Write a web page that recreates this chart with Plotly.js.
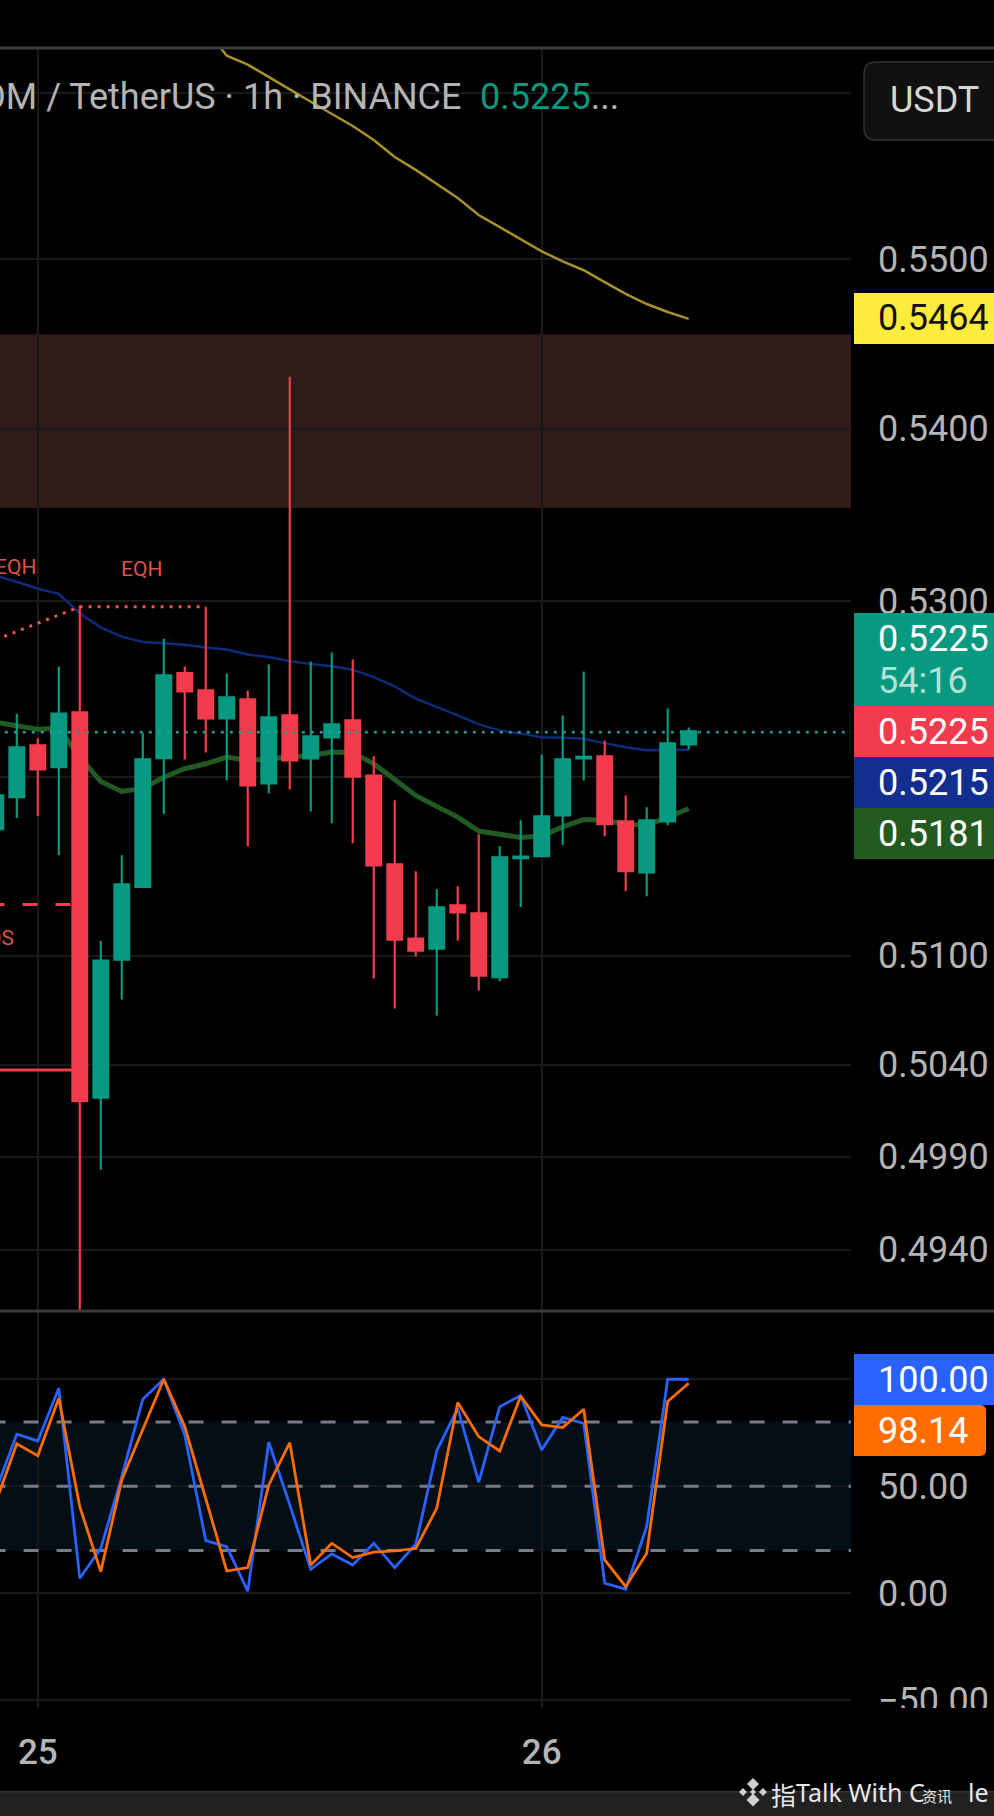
<!DOCTYPE html>
<html><head><meta charset="utf-8">
<script src="https://cdn.plot.ly/plotly-3.0.1.min.js"></script>
<style>html,body{margin:0;padding:0;background:#000}#c{width:994px;height:1816px}</style>
</head><body><div id="c"></div>
<script>
// hours counted from the "25" tick
const hours = [-2,-1,0,1,2,3,4,5,6,7,8,9,10,11,12,13,14,15,16,17,18,19,20,21,22,23,24,25,26,27,28,29,30,31];
const opens = [.51704,.51884,.52176,.52053,.52364,.50221,.50978,.51381,.52104,.52587,.52488,.52329,.52437,.51961,.52346,.52102,.52222,.52318,.52006,.51508,.51094,.51039,.51279,.51234,.50881,.51542,.51553,.51782,.52102,.52114,.51748,.51463,.51748,.52182];
const closes = [.51894,.52165,.52040,.52356,.50202,.50973,.51396,.52097,.52574,.52483,.52329,.52449,.51950,.52335,.52091,.52227,.52295,.52000,.51502,.51089,.51027,.51268,.51240,.50890,.51547,.51550,.51776,.52097,.52111,.51732,.51469,.51754,.52187,.52256];
const highs = [.52000,.52356,.52216,.52625,.52971,.51083,.51558,.52246,.52784,.52625,.52966,.52585,.52488,.52636,.54304,.52653,.52704,.52665,.52114,.51866,.51469,.51368,.51385,.51676,.51609,.51754,.52125,.52346,.52596,.52204,.51894,.51827,.52386,.52278];
const lows = [.51680,.51767,.51778,.51558,.49050,.49830,.50758,.51379,.51788,.52097,.52136,.51978,.51609,.51905,.51927,.51804,.51737,.51625,.50874,.50708,.50995,.50670,.51083,.50808,.50859,.51269,.51550,.51614,.51978,.51665,.51357,.51329,.51726,.52153];
const maBlue = [.53145,.53110,.53070,.53041,.52928,.52848,.52795,.52765,.52757,.52748,.52733,.52721,.52693,.52678,.52655,.52638,.52626,.52606,.52564,.52511,.52441,.52394,.52346,.52295,.52261,.52243,.52222,.52220,.52214,.52189,.52165,.52148,.52148,.52152];
const maGreen = [.52307,.52290,.52267,.52273,.52110,.51972,.51916,.51933,.51996,.52044,.52072,.52110,.52091,.52101,.52110,.52119,.52138,.52135,.52072,.51982,.51894,.51832,.51772,.51694,.51674,.51657,.51665,.51717,.51758,.51754,.51732,.51726,.51772,.51819];
const maYellowHours = [8,9,10,11,12,13,14,15,16,17,18,19,20,21,22,23,24,25,26,27,28,29,30,31];
const maYellow = [.56391,.56228,.56174,.56096,.56023,.55948,.55873,.55801,.55716,.55614,.55536,.55452,.55367,.55265,.55193,.55120,.55048,.54988,.54935,.54864,.54794,.54734,.54687,.54646];
const stochK = [48,74.3,71.2,95.8,7,21,54.5,90.7,100,74,24.6,21.8,1,70.6,41.3,11.2,18.4,13.2,23.4,12,22.9,66.5,86.4,51.9,87.2,92.4,67,82.2,79.4,4.7,1.9,31.2,100,100];
const stochD = [42.5,69.8,64.3,91.1,40.5,10.1,53,76.3,100,77.9,43.6,10.4,12,50.6,70.4,13.2,23.4,16.7,19.2,19.8,20.9,39.7,89.1,73.2,66.5,92.2,78.7,77.4,86,15.6,3.1,18.7,89.6,98.14];
const priceTicks = [.56,.55,.54,.53,.52,.51,.504,.499,.494];
const priceTickText = ["","0.5500","0.5400","0.5300","","0.5100","0.5040","0.4990","0.4940"];
const stochTicks = [100,50,0,-50];
const stochTickText = ["","50.00","0.00","\u221250.00"];
const dayTicks = [0,24];
const dayTickText = ["25","26"];
const stochLevels = [80,50,20];
const zoneTop = .54555, zoneBottom = .53537;
const lastPrice = .5225;
const eqhLevel = .52966, eqhLeft = .52778, bosDashed = .51283, bosSolid = .50371;

const W=994,H=1816,AX=851;
const px=x=>x/W, py=y=>1-y/H;
const xR=[-1.80,38.73];
const pR=[Math.log10(.49072),Math.log10(.56275)];
const F='Roboto, sans-serif';
const GREEN='#089981',RED='#f23b4c',GRID='#191919',TXT='#b4b4b4';

const line=(x,y,color,width,dash,ya)=>({type:'scatter',mode:'lines',x,y,yaxis:ya||'y',xaxis:'x',hoverinfo:'skip',showlegend:false,line:{color,width,dash:dash||'solid'}});
const traces=[
  line(maYellowHours,maYellow,'#a8912c',2.5),
  line(hours,maBlue,'#0e2a78',2.5),
  line(hours,maGreen,'#215a22',5),
  {type:'candlestick',x:hours,open:opens,high:highs,low:lows,close:closes,xaxis:'x',yaxis:'y2',hoverinfo:'skip',showlegend:false,
   increasing:{line:{color:GREEN,width:2.2},fillcolor:GREEN},decreasing:{line:{color:RED,width:2.2},fillcolor:RED},whiskerwidth:0},
  line([-2,2,8],[eqhLeft,eqhLevel,eqhLevel],'#e8564c',3,'3px,6px','y2'),
  line([-2.3,1.6],[bosDashed,bosDashed],RED,3,'15px,18px'),
  line([-2,2],[bosSolid,bosSolid],RED,3),
  line([-2,xR[1]],[lastPrice,lastPrice],'#1f9b8f',2.5,'3px,6px','y2'),
];
stochLevels.forEach(l=>traces.push(line([-2.25,xR[1]],[l,l],'#787b86',3,'15px,18px','y3')));
traces.push(line(hours,stochK,'#2962ff',2.8,null,'y3'));
traces.push(line(hours,stochD,'#ff6d00',2.8,null,'y3'));

const rect=(x0,y0,x1,y1,fill,extra)=>Object.assign({type:'rect',xref:'paper',yref:'paper',x0:px(x0),x1:px(x1),y0:py(y0),y1:py(y1),fillcolor:fill,line:{width:0},layer:'above'},extra||{});
const P=(x,y)=>px(x).toFixed(5)+','+py(y).toFixed(5);
const pathShape=(d,fill,extra)=>Object.assign({type:'path',xref:'paper',yref:'paper',path:d,fillcolor:fill,line:{width:0},layer:'above'},extra||{});
const dia=(cx,cy,r)=>'M'+P(cx,cy-r)+' L'+P(cx+r,cy)+' L'+P(cx,cy+r)+' L'+P(cx-r,cy)+' Z';
const labelX=877.5;
const shapes=[
  {type:'rect',xref:'x',yref:'y',x0:xR[0],x1:xR[1],y0:zoneBottom,y1:zoneTop,fillcolor:'rgba(210,110,110,0.235)',line:{width:0},layer:'below'},
  {type:'rect',xref:'x',yref:'y3',x0:xR[0],x1:xR[1],y0:20,y1:80,fillcolor:'rgba(33,150,243,0.09)',line:{width:0},layer:'below'},
  rect(851,1708,994,1790,'#000'),
  rect(0,46.5,994,49.5,'#3a3a3a'),
  rect(0,1309.5,994,1312.5,'#3a3a3a'),
  rect(0,1791,994,1816,'#212121'),
  rect(0,1791,994,1792.5,'#333'),
  rect(854,293,994,344,'#ffeb3b'),
  rect(854,613,994,706,GREEN),
  rect(854,706,994,757,RED),
  rect(854,757,994,808,'#122e8f'),
  rect(854,808,994,859,'#235a20'),
  rect(854,1354,994,1405,'#2962ff'),
  pathShape('M'+P(854,1405)+' L'+P(980,1405)+' Q'+P(986,1405)+' '+P(986,1411)+' L'+P(986,1450)+' Q'+P(986,1456)+' '+P(980,1456)+' L'+P(854,1456)+' Z','#ff6d00'),
  pathShape('M'+P(876,62)+' L'+P(1000,62)+' L'+P(1000,140)+' L'+P(876,140)+' Q'+P(864,140)+' '+P(864,128)+' L'+P(864,74)+' Q'+P(864,62)+' '+P(876,62)+' Z','#111',{line:{color:'#333',width:1.5}}),
  pathShape(dia(753,1784,6),'#cfcfcf'),pathShape(dia(753,1800,6.5),'#cfcfcf'),
  pathShape(dia(743,1792,4),'#cfcfcf'),pathShape(dia(763,1792,4),'#cfcfcf'),pathShape(dia(753,1792,3),'#cfcfcf'),
];
const note=(text,x,y,size,color,anchor,extra)=>Object.assign({xref:'paper',yref:'paper',x:px(x),y:py(y),text,showarrow:false,xanchor:anchor||'left',yanchor:'middle',borderpad:0,borderwidth:0,
  font:{family:F,size,color}},extra||{});
const annotations=[
  note('OM / TetherUS · 1h · BINANCE',461.6,97,36,TXT,'right'),
  note('0.5225<span style="color:'+TXT+'">...</span>',480,97,36,'#089981'),
  note('USDT',890,100,36,'#d6d6d6'),
  note('0.5464',labelX,318,36,'#111'),
  note('0.5225',labelX,639,36,'#fff'),
  note('54:16',labelX,681,36,'#b5e0d8'),
  note('0.5225',labelX,731.7,36,'#fff'),
  note('0.5215',labelX,782.7,36,'#fff'),
  note('0.5181',labelX,834,36,'#fff'),
  note('100.00',877.5,1380,36,'#fff'),
  note('98.14',877.5,1431,36,'#fff'),
  note('EQH',35.7,566.7,21,'#d9534a','right'),
  note('EQH',121,569,21,'#d9534a'),
  note('BOS',14,938,21,'#d9534a','right'),
  note('指',771,1794,25,'#e8e8e8','left',{font:{family:'"Noto Sans CJK SC"',size:25,color:'#e8e8e8'}}),
  note('Talk With C',796,1792,25,'#e8e8e8','left',{font:{family:'"Noto Sans"',size:25,color:'#e8e8e8'}}),
  note('资讯',922,1795,15,'#e8e8e8','left',{font:{family:'"Noto Sans CJK SC"',size:15,color:'#e8e8e8'}}),
  note('le',968,1792,25,'#e8e8e8','left',{font:{family:'"Noto Sans"',size:25,color:'#e8e8e8'}}),
];
const yCommon={side:'right',anchor:'x',zeroline:false,showline:false,ticks:'',gridcolor:GRID,gridwidth:2,ticklabelstandoff:26,tickfont:{family:F,size:36,color:TXT}};
const layout={
  width:W,height:H,autosize:false,margin:{l:0,r:0,t:0,b:0,pad:0},paper_bgcolor:'#000',plot_bgcolor:'#000',showlegend:false,boxgap:0,
  xaxis:{domain:[0,AX/W],range:xR,anchor:'y3',tickmode:'array',tickvals:dayTicks,ticktext:dayTickText,showgrid:true,gridcolor:GRID,gridwidth:2,zeroline:false,showline:false,ticks:'',
    ticklabelstandoff:20,tickfont:{family:F,size:35,color:TXT,weight:500},rangeslider:{visible:false}},
  yaxis:Object.assign({},yCommon,{domain:[py(1311),py(48)],type:'log',range:pR,tickmode:'array',tickvals:priceTicks,ticktext:priceTickText}),
  yaxis2:{domain:[py(1311),py(48)],type:'log',range:pR,overlaying:'y',side:'right',anchor:'x',showgrid:false,zeroline:false,showticklabels:false,ticks:''},
  yaxis3:Object.assign({},yCommon,{domain:[py(1708),py(1311)],range:[-53.6,131.9],tickmode:'array',tickvals:stochTicks,ticktext:stochTickText}),
  shapes,annotations
};
Plotly.newPlot('c',traces,layout,{staticPlot:true,displayModeBar:false});
</script></body></html>
